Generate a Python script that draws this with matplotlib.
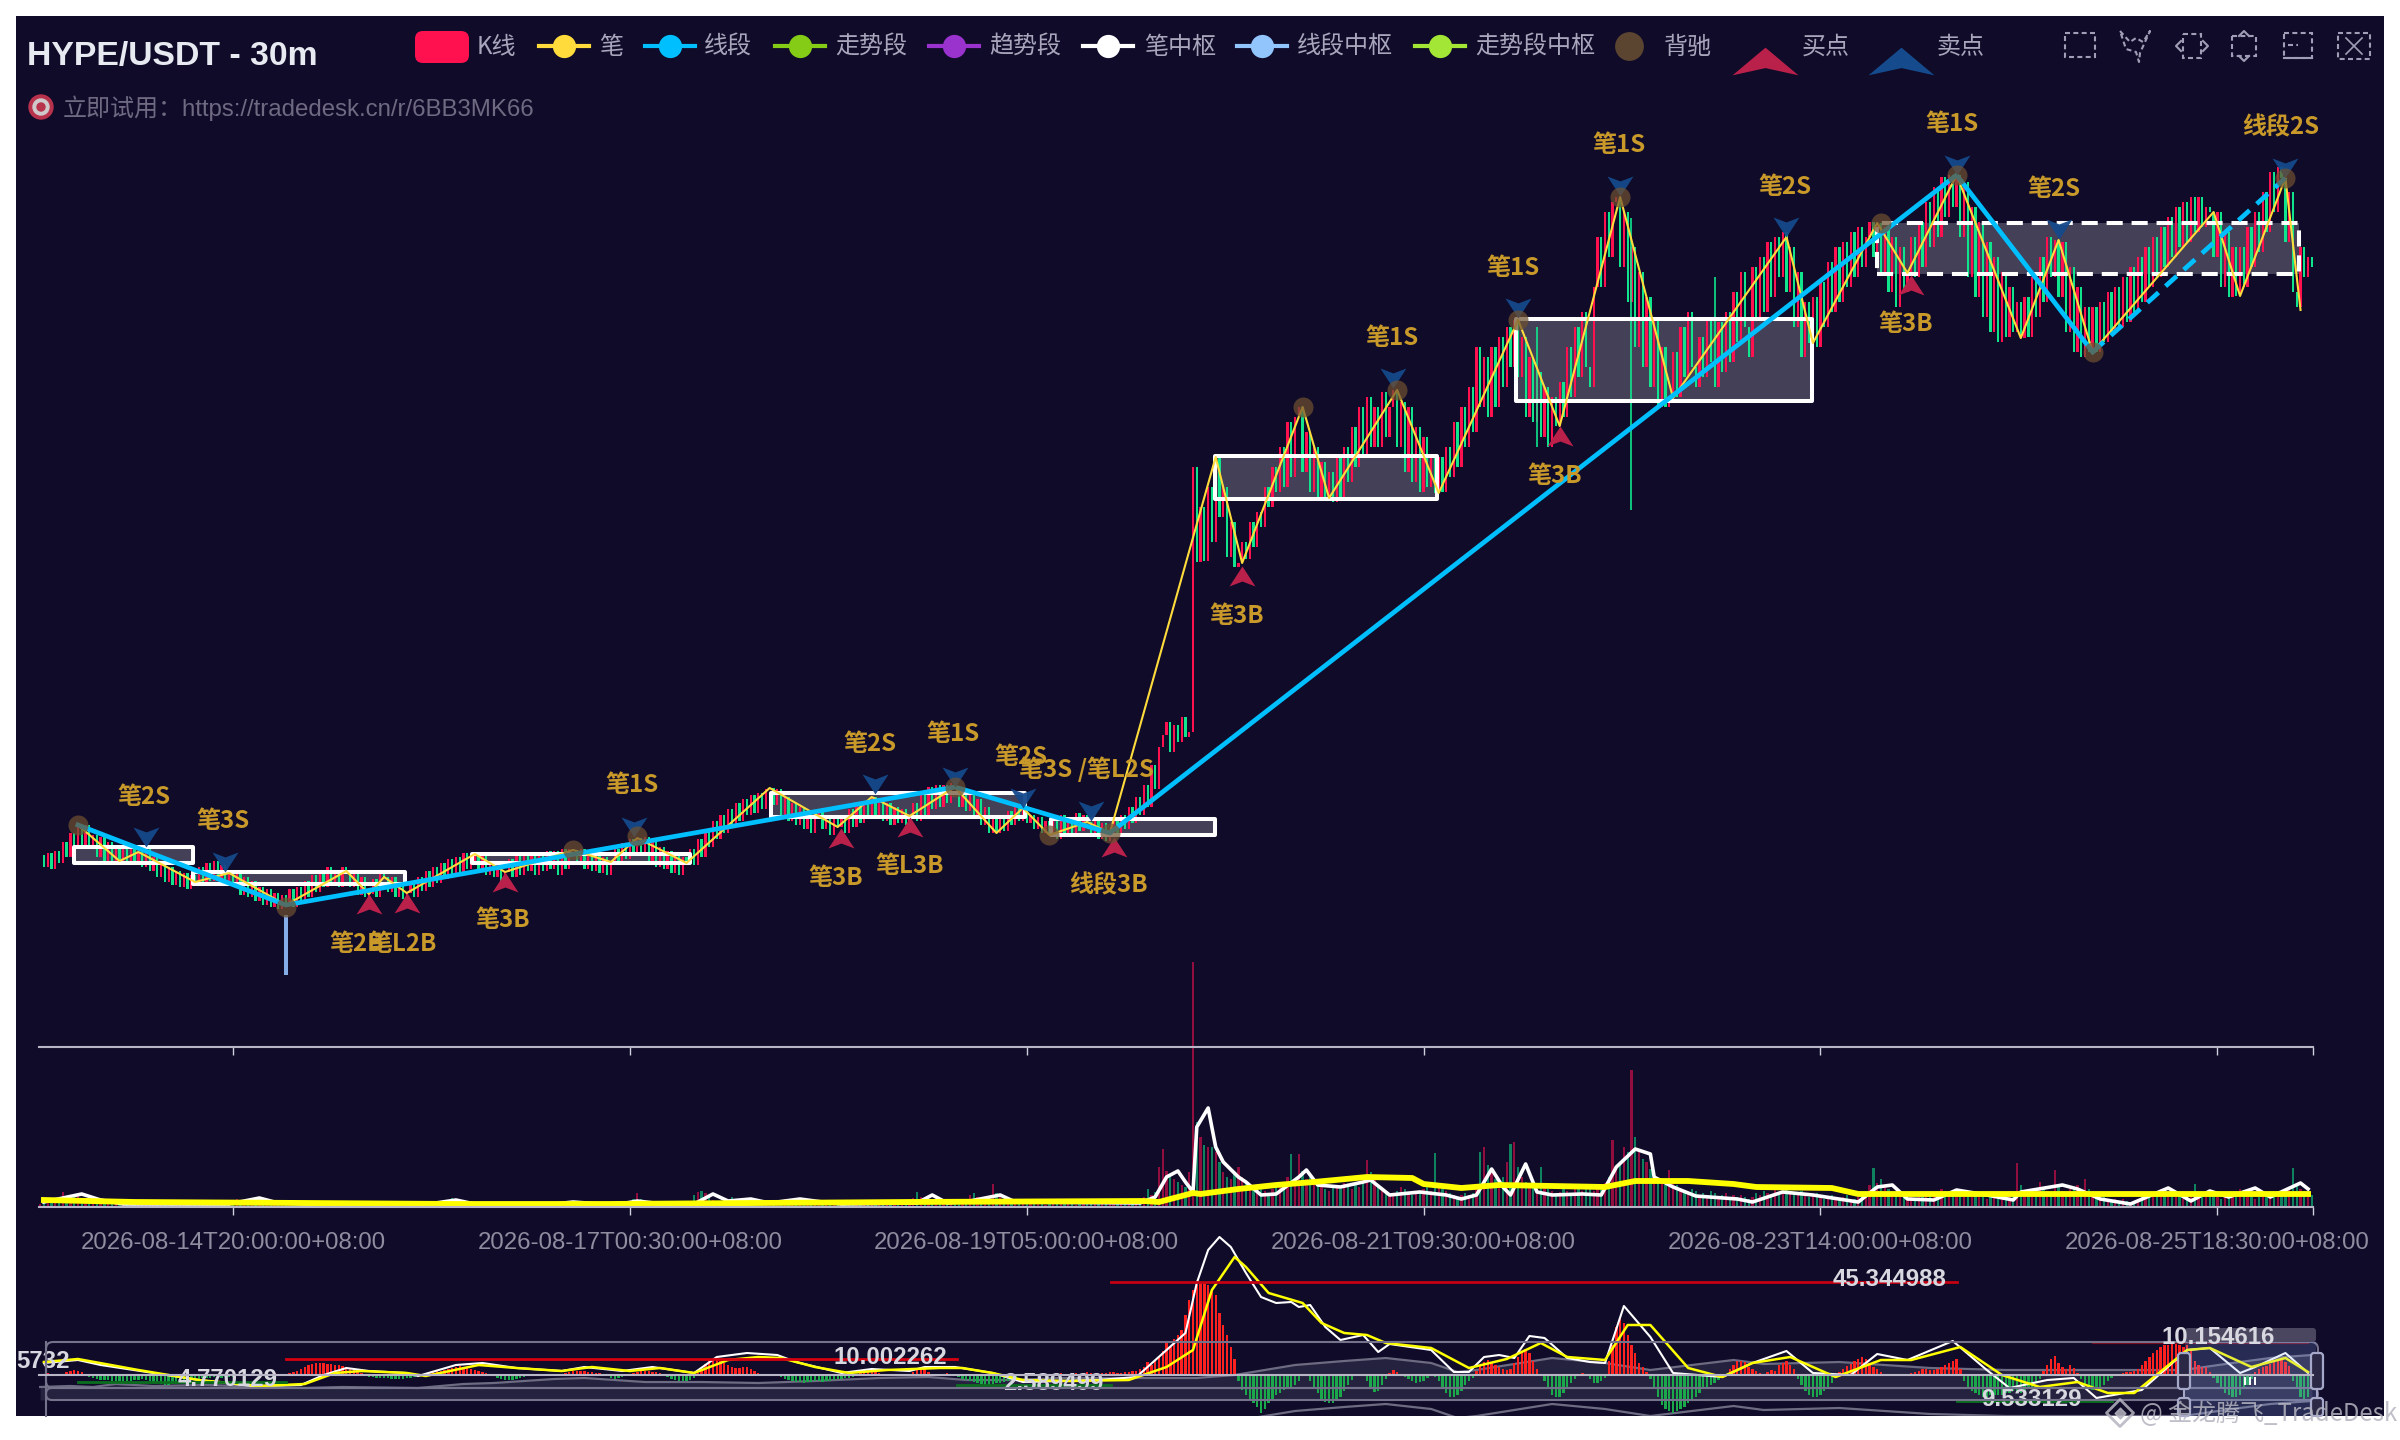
import numpy as np
import matplotlib
matplotlib.use("Agg")
import matplotlib.pyplot as plt
from matplotlib.patches import Rectangle, FancyBboxPatch, Circle
from matplotlib.path import Path

CJK = ["Noto Sans CJK SC", "DejaVu Sans"]
LATIN = ["Liberation Sans", "Noto Sans CJK SC"]

# candle closes (no axis is shown, so the scale is nominal)
closes = [
    192,180,194,178,196,184,205,190,214,200,222,
    200,222,198,212,190,210,186,205,184,200,186,
    200,182,198,186,195,
    180,198,176,190,170,186,165,180,162,176,160,174,158,172,165,
    180,162,184,166,186,168,182,166,174,
    160,176,152,170,150,166,146,160,142,158,140,154,138,152,142,
    158,140,160,146,166,150,172,155,176,160,180,162,176,160,180,176,
    160,176,152,170,150,153,
    168,150,174,170,
    155,170,150,165,148,154,
    166,150,170,156,176,160,180,164,184,168,188,172,190,174,194,178,186,193,
    178,192,172,186,170,184,165,175,
    188,170,192,172,194,176,192,172,194,176,196,178,196,172,198,178,198,197,
    182,198,178,196,176,192,174,190,172,185,
    198,182,204,188,208,192,209,
    192,210,186,206,180,200,178,196,174,194,172,190,184,
    198,182,208,190,218,200,226,208,232,214,238,222,244,226,248,232,252,234,254,238,258,259,
    242,258,232,250,226,244,222,240,218,236,214,232,236,218,232,212,228,220,
    232,214,238,220,242,224,246,230,250,
    232,248,226,244,222,240,224,238,222,231,
    244,226,252,232,260,238,262,240,262,244,264,260,
    240,258,236,254,232,248,222,240,214,230,214,
    228,216,236,222,240,226,239,
    224,232,218,230,214,226,212,
    228,208,232,214,230,212,234,216,232,225,
    210,228,208,224,206,214,
    226,212,232,218,240,224,250,232,262,240,282,258,300,312,325,295,322,305,330,310,315,
    580,485,540,486,560,505,590,
    530,560,490,525,480,484,
    505,488,525,500,535,520,560,540,580,555,600,560,625,570,630,640,
    575,615,555,600,548,585,549,
    575,545,590,550,600,565,620,580,640,590,650,600,640,600,655,610,640,657,
    600,645,575,640,565,620,555,610,560,590,554,
    590,555,600,570,625,580,640,600,660,615,700,640,690,630,700,640,710,660,720,680,727,
    670,710,630,690,625,675,610,660,600,650,621,
    665,630,700,650,720,670,735,680,660,760,810,760,835,790,845,850,
    780,835,745,800,700,775,680,750,660,730,640,700,640,649,
    695,650,720,670,735,680,660,710,670,730,685,660,725,675,735,685,755,705,775,720,690,780,730,790,735,805,750,810,770,815,
    755,800,720,775,690,745,704,
    750,700,765,720,785,735,800,745,805,760,815,770,820,780,810,825,790,824,
    775,820,755,810,740,800,755,774,
    810,770,825,780,845,800,860,810,870,830,872,840,872,
    810,865,770,840,750,825,730,805,715,790,705,775,710,760,715,745,709,
    750,710,770,730,790,745,810,770,807,
    750,805,715,780,695,760,690,740,695,
    740,695,745,705,755,715,760,720,770,725,780,735,790,745,800,760,810,770,820,780,830,790,840,800,845,805,850,815,850,820,840,835,
    790,835,760,815,750,800,751,
    800,760,820,780,835,795,855,815,875,835,880,869,
    805,855,755,740,800,770,790,780,
]

# long wicks that stick out of the bodies
wick_idx = [421, 396, 443]
wick_high = [829, 720, 770]
wick_low = [537, 600, 660]

# strokes (笔)
bi_idx = [10,21,26,41,50,65,81,87,91,97,115,123,141,151,158,171,193,211,220,230,242,253,260,267,277,283,
          311,318,334,341,359,370,391,402,418,432,462,469,486,494,507,524,534,543,575,582,594,598]
bi_val = [222,186,195,165,174,142,176,153,170,154,193,175,197,185,209,184,259,220,250,231,260,214,239,212,225,214,
          590,484,640,549,657,554,727,621,850,649,810,704,824,774,872,709,807,695,835,751,869,737]

# segments (线段), last leg is still unconfirmed and drawn dashed
seg_idx = [10,65,242,283,507,543]
seg_val = [222,142,260,214,872,695]
seg_open_idx = [543,594]
seg_open_val = [695,869]

# 笔中枢 boxes
zs_left = [9,40.4,114.3,193.4,267.4,310.8,390.4]
zs_right = [40.4,96.5,171.9,260.5,310.8,369.6,468.7]
zs_low = [184,163,184,230,212,548,646]
zs_high = [200,175,193,254,228,591,728]
zs_open = [486,597.6,773,824]

# 线段中枢 collapsed to a vertical bar
seg_zs_idx = 65
seg_zs_low = 74
seg_zs_high = 130

# 背驰 points
div_idx = [10,65,141,158,242,267,283,334,359,391,418,487,507,543,594]
div_val = [222,140,197,211,260,212,214,640,657,727,850,824,872,695,869]

# buy and sell points
buy_idx = [87,97,123,212,230,284,318,402,495]
buy_val = [153,154,175,219,230,210,481,621,772]
sell_idx = [28,49,157,221,242,260,278,358,391,418,462,507,534,594]
sell_val = [200,175,210,253,260,239,226,659,729,851,810,872,808,869]

label_text = ["笔2S","笔3S","笔2B","笔L2B","笔3B","笔1S","笔2S","笔1S","笔2S","笔3S /笔L2S","笔3B","笔L3B","线段3B",
              "笔1S","笔1S","笔1S","笔2S","笔3B","笔3B","笔1S","笔2S","线段2S","笔3B"]
label_idx = [27.5,48.4,83.8,96,122.5,156.6,219.5,241.5,259.5,276.7,210.6,230,282.5,
             357.6,389.6,417.7,461.6,400.8,316.6,505.8,532.8,592.8,493.6]
label_val = [250,226,103,103,127,262,303,313,290,278,169,181,162,
             709,779,902,860,571,431,923,858,920,723]

volumes = [
    3,4,5,6,6,8,15,9,7,10,12,8,6,5,5,4,4,3,3,3,4,3,3,4,3,3,3,4,3,3,3,4,3,3,3,2,3,3,4,3,4,3,3,4,3,3,5,4,3,4,
    4,6,8,7,6,5,7,5,4,4,4,3,3,3,2,3,3,2,3,2,3,2,3,2,3,2,2,3,2,2,3,5,3,2,2,3,2,2,3,2,2,3,2,2,3,2,2,2,3,2,
    2,3,2,2,3,2,2,4,6,9,7,5,4,4,3,3,2,2,3,2,2,2,1,2,2,1,2,2,1,2,2,1,2,2,3,2,2,3,4,6,5,6,4,3,2,3,2,2,2,3,
    2,2,2,3,2,3,5,8,14,8,5,4,3,3,2,3,2,2,2,3,3,4,6,12,15,16,14,10,7,5,4,5,8,10,7,5,4,4,6,8,5,5,4,3,4,3,5,8,7,6,
    5,7,6,5,4,3,3,4,3,3,4,3,3,4,3,3,3,3,3,4,3,3,3,3,4,3,3,3,3,3,5,9,15,10,6,5,4,3,3,4,3,5,6,5,4,8,12,14,10,6,
    5,6,23,14,10,7,5,4,3,3,3,3,3,3,3,3,2,3,3,3,3,3,3,3,2,3,3,3,3,3,3,3,3,3,3,3,4,3,4,5,5,6,10,18,12,15,40,58,36,30,
    28,25,22,20,35,245,85,70,62,60,60,55,45,35,30,28,35,40,30,25,22,20,22,18,16,14,18,22,20,24,30,53,28,53,36,28,30,26,22,20,18,16,20,22,18,24,20,18,22,20,
    24,47,35,28,22,16,14,12,14,16,20,18,15,12,14,16,18,22,16,54,20,18,16,14,12,10,12,14,12,14,20,55,60,42,36,28,24,30,45,63,65,40,30,25,22,20,18,40,22,18,
    16,14,15,18,16,14,18,20,16,18,20,16,18,22,24,30,67,40,45,60,55,137,70,55,48,45,38,30,28,24,22,37,26,22,18,16,14,18,16,12,14,12,16,14,10,12,14,10,12,10,
    12,10,8,10,14,12,16,14,12,18,14,16,18,14,12,14,16,14,10,12,14,10,8,10,12,10,8,10,12,8,8,10,12,10,22,39,24,28,22,18,14,12,14,10,8,10,8,10,12,14,
    10,12,14,18,16,12,14,18,16,14,12,10,12,14,10,8,10,12,8,10,14,16,12,44,22,16,14,12,10,25,18,16,14,37,22,16,14,18,20,22,16,28,18,14,10,8,10,8,6,8,
    6,8,6,5,6,8,10,8,12,14,16,18,14,12,10,12,10,8,14,16,23,14,10,12,16,14,10,8,10,12,14,16,18,14,12,10,8,10,14,12,10,12,14,16,18,20,39,22,18,16,14,12,
]

vol_ma5_idx = [1,11,16,22,50,54,58,62,70,101,110,115,131,141,152,158,167,173,178,182,188,193,201,207,212,232,236,240,246,254,258,291,295,298,301,303,305,306,309,311,313,317,319,323,327,333,335,338,344,350,352,357,365,372,376,380,384,387,389,393,396,400,408,413,417,422,426,427,432,438,449,453,461,469,481,486,490,494,501,507,515,522,524,535,539,545,553,563,569,574,579,586,590,598,600]
vol_ma5_val = [5,13,7,3,3,6,9,5,3,2,7,3,1,5,2,6,2,3,13,6,8,4,8,5,3,4,12,4,6,12,5,4,10,30,36,25,15,80,99,60,45,30,25,12,13,30,37,22,20,25,27,12,15,12,8,12,38,20,12,43,15,12,13,12,40,58,53,30,20,11,8,5,15,12,5,20,22,8,7,17,12,7,15,22,18,8,3,19,6,16,10,19,10,24,18]
vol_ma20_idx = [1,25,70,110,150,190,230,292,296,305,307,317,327,337,351,363,366,376,386,414,422,436,448,454,474,481,491,520,550,600]
vol_ma20_val = [7,5,4,3,3,4,5,6,5,14,13,18,22,25,30,29,23,19,22,20,26,26,23,20,19,13,13,13,13,13]

macd_hist = [
    0,1,2,1,0,-1,-1,3,4,5,4,3,
    -1,-2,-3,-4,-5,-5,-5,-6,-6,-6,-7,-6,-6,-5,-5,-4,-5,-6,-7,-8,-9,-10,-10,-9,-9,-8,-7,-6,-5,
    -4,-4,-3,-3,-3,-2,-3,-3,-2,-2,-2,-1,-1,-1,-1,0,0,0,1,1,1,2,1,1,
    1,2,3,4,6,8,10,11,12,12,12,11,11,10,10,9,8,7,5,4,2,
    -1,-2,-2,-3,-3,-3,-3,-4,-4,-4,-4,-3,-3,-2,-1,-1,
    1,2,3,4,4,5,6,7,8,9,8,7,6,5,4,3,2,1,
    -1,-3,-4,-5,-5,-5,-4,-3,-2,
    0,0,1,0,0,-1,0,0,1,1,
    2,3,4,4,4,4,3,3,2,2,1,
    -1,-3,-4,-3,-2,-1,
    1,2,3,4,4,4,3,3,2,1,
    -2,-4,-5,-6,-6,-6,-5,-3,
    2,6,11,15,17,16,14,12,10,8,7,7,8,8,6,4,2,
    1,1,0,0,-1,
    -2,-4,-5,-6,-7,-7,-8,-7,-7,-6,-6,-7,-6,-6,-5,-4,-4,-3,-3,-2,-1,
    2,4,5,5,4,2,1,0,0,1,0,0,1,1,
    3,5,7,6,3,1,1,0,1,2,0,0,
    -2,-4,-5,-6,-7,-8,-9,-10,-10,-9,-8,-8,-7,-6,-5,-3,
    -1,-1,0,0,0,-1,0,0,0,
    1,1,2,1,1,2,2,1,2,3,2,1,1,2,2,3,3,2,2,3,3,4,4,
    6,8,13,10,14,18,24,32,28,36,40,45,60,75,85,
    90,92,93,90,85,80,62,50,40,28,16,
    -6,-15,-20,-24,-28,-32,-38,-34,-28,-24,-20,-18,-15,-14,-12,-10,-6,
    1,-1,
    -6,-12,-18,-24,-27,-28,-28,-26,-22,-16,-10,-5,
    0,-1,-1,
    -6,-12,-17,-16,-10,-4,
    2,5,3,-1,-2,-4,-6,
    -8,-7,-6,-3,0,-2,
    -6,-12,-18,-22,-22,-20,-16,-10,-6,-3,
    4,9,13,15,12,10,8,6,5,6,
    12,18,24,26,22,14,6,1,
    -6,-14,-20,-22,-22,-18,-14,-8,-4,
    0,2,1,
    -4,-8,-8,-6,-3,
    14,30,48,56,52,40,30,22,12,8,3,
    -4,-12,-22,-30,-34,-36,-38,-36,-34,-32,-28,-26,-22,-18,-14,-12,-10,-8,-5,-2,
    1,6,10,14,14,13,8,6,4,2,1,3,5,4,10,12,14,10,6,
    -4,-10,-16,-20,-22,-22,-20,-16,-12,-8,-3,
    3,6,9,11,14,16,18,16,12,8,6,3,
    0,-1,0,-1,0,1,1,
    2,3,4,6,6,5,5,6,8,10,12,14,16,6,
    -6,-12,-16,-18,-20,-22,-22,-20,-20,-20,-20,-18,-18,-16,-18,-18,-16,-14,-12,-8,-4,
    4,10,16,19,12,8,6,10,7,2,
    -4,-10,-14,-15,-15,-13,-10,-6,-3,-1,
    1,2,3,3,4,6,10,14,18,22,25,28,30,30,32,34,30,
    28,30,26,14,10,8,8,3,
    -3,-8,-14,-18,-20,-22,-22,-20,-14,-10,-4,
    3,6,8,9,11,13,14,16,13,9,
    -6,-14,-22,-26,-22,-12,
]

dif_idx = [1,10,16,30,42,56,69,75,81,87,97,100,110,117,126,138,144,154,162,173,179,187,195,200,212,220,230,234,242,252,260,280,290,298,303,306,309,312,315,319,323,327,331,333,336,340,344,350,354,357,368,374,378,382,386,390,394,398,404,410,414,419,426,432,445,453,462,469,479,486,494,506,515,521,531,538,544,556,568,574,582,586,594,600]
dif_val = [12,15,10,2,-5,-11,-10,0,7,4,2,-1,10,12,7,4,8,4,8,2,18,22,20,13,2,6,4,8,8,2,-7,-5,-2,25,42,92,125,138,128,102,78,72,73,68,70,48,35,40,23,31,25,3,3,18,20,17,39,37,17,13,12,69,38,2,-2,12,24,2,0,21,15,34,5,-13,-5,-3,-23,-15,25,27,2,8,22,2]
dea_idx = [1,10,26,42,58,70,78,85,97,102,116,126,138,146,156,164,173,182,190,196,205,214,224,238,244,252,260,272,288,298,305,310,316,319,325,334,339,345,351,356,368,378,388,397,404,414,420,426,436,445,453,463,475,487,495,508,519,529,539,547,554,568,574,585,594,600]
dea_val = [13,16,5,-5,-11,-9,2,4,2,-1,10,7,4,8,4,7,2,15,18,17,8,2,5,7,7,2,-5,-6,-5,8,25,85,118,108,82,72,52,42,40,32,27,7,16,32,18,15,50,50,7,-2,12,18,-2,15,15,28,0,-12,-7,-18,-18,25,27,8,17,3]

# slider data shadow
shadow_idx = [0,8,14,20,30,44,60,70,80,100,112,120,136,144,160,175,190,205,222,235,245,258,270,290,306,316,332,345,356,368,375,380,400,414,426,448,456,476,500,520,545,567,580,590,601]
shadow_val = [-12,-11,-12,-9,-11,-10,-12,-13,-12,-13,-9,-8,-4,-3,-7,-7,-8,-6,-3,-2,-5,-5,-3,-3,-3,0,10,14,17,12,3,5,17,12,5,15,11,13,7,5,5,5,12,17,20]
shadow_offset = 46

tick_idx = [51,156,261,366,471,576,601.3]
tick_text = ["2026-08-14T20:00:00+08:00","2026-08-17T00:30:00+08:00","2026-08-19T05:00:00+08:00",
             "2026-08-21T09:30:00+08:00","2026-08-23T14:00:00+08:00","2026-08-25T18:30:00+08:00",""]

mark_text = ["45.344988","10.002262","4.770129","2.589499","9.533129"]
mark_level = [93,16,-7,-10,-26]
mark_start = [283.3,65,10,242.6,507]
mark_end = [507,242.6,65,283.3,548]
mark_color = ["#c40012","#d60010","#0a6e1e","#0a6e1e","#0a6e1e"]
mark_text_idx = [489.4,225,49.7,268,526.7]
mark_text_val = [95,17,-5,-9,-25]
last_mark_level = 32
last_mark_start = 543
last_mark_end = 600

legend_line = ["笔","线段","走势段","趋势段","笔中枢","线段中枢","走势段中枢"]
legend_color = ["#ffdc3c","#00bfff","#85cc16","#9a32cd","#ffffff","#93c5fd","#a3e635"]
legend_x0 = [539,645,775,929,1083,1237,1415]
legend_tx = [599,704,835,989,1144,1297,1475]

BG = "#0f0b29"
UP = "#ff1150"
DOWN = "#10e58e"
GOLD = "#c99a2a"
TXT = "#a8a6bc"

opens = [closes[0]] + closes[:-1]
x = np.arange(len(closes))
up = np.array(closes) >= np.array(opens)
colors = [UP if u else DOWN for u in up]
n_vol = min(len(volumes), len(colors))


def add_axes(left, top, right, bottom, z):
    ax = fig.add_axes([left / 2400, 1 - bottom / 1440, (right - left) / 2400, (bottom - top) / 1440])
    ax.set_zorder(z)
    ax.patch.set_alpha(0)
    return ax


fig = plt.figure(figsize=(24, 14.4), dpi=100, facecolor="white")

# panel background in pixel coordinates
bg = add_axes(0, 0, 2400, 1440, 0)
bg.set_xlim(0, 2400)
bg.set_ylim(1440, 0)
bg.axis("off")
bg.add_patch(Rectangle((16, 16), 2368, 1400, color=BG, lw=0))

# MACD panel with slider shadow behind it
ax_macd = add_axes(39, 1200, 2313, 1416, 1)
ax_macd.set_xlim(-0.3, 601.3)
ax_macd.set_ylim(-41, 175)
ax_macd.axis("off")
ax_macd.fill_between(shadow_idx, shadow_val, -25, color="#25223f", lw=0, zorder=1)
ax_macd.plot(shadow_idx, shadow_val, color="#6d6b82", lw=1.6, zorder=2)
ax_macd.plot(shadow_idx, np.array(shadow_val) - shadow_offset, color="#6d6b82", lw=1.6, zorder=2)
hist_x = np.arange(len(macd_hist))
hist_colors = ["#ff2020" if h > 0 else "#1ba84a" for h in macd_hist]
ax_macd.bar(hist_x, macd_hist, width=0.62, color=hist_colors, lw=0, antialiased=False, zorder=3)
ax_macd.plot(dif_idx, dif_val, color="white", lw=1.5, solid_joinstyle="round", zorder=4)
ax_macd.plot(dea_idx, dea_val, color="#ffff00", lw=1.8, solid_joinstyle="round", zorder=5)
for txt, lvl, a, b, c, tx, ty in zip(mark_text, mark_level, mark_start, mark_end, mark_color, mark_text_idx, mark_text_val):
    ax_macd.plot([a, b], [lvl, lvl], color=c, lw=2, zorder=6)
    ax_macd.text(tx, ty, txt, color="#d8d8e0", fontsize=17.3, fontweight="bold", family=LATIN,
                 ha="center", va="center", zorder=7)
ax_macd.plot([last_mark_start, last_mark_end], [last_mark_level, last_mark_level], color="#7a0a1c", lw=1.6, zorder=6)
ax_macd.text(-6.4, 13, "5732", color="#d8d8e0", fontsize=17.3, fontweight="bold", family=LATIN,
             ha="left", va="center", zorder=7, clip_on=False)

# volume panel
ax_vol = add_axes(39, 962, 2313, 1207, 2)
ax_vol.set_xlim(-0.3, 601.3)
ax_vol.set_ylim(0, 245)
ax_vol.bar(np.arange(n_vol), volumes[:n_vol], width=0.6, color=colors[:n_vol], alpha=0.55, lw=0, antialiased=False)
ax_vol.plot(vol_ma5_idx, vol_ma5_val, color="white", lw=2.6, solid_joinstyle="round")
ax_vol.plot(vol_ma20_idx, vol_ma20_val, color="#ffff00", lw=4.2, solid_joinstyle="round")
for s in ["top", "left", "right"]:
    ax_vol.spines[s].set_visible(False)
ax_vol.spines["bottom"].set_color("#b8b6c6")
ax_vol.spines["bottom"].set_linewidth(1.5)
ax_vol.set_yticks([])
ax_vol.set_xticks(tick_idx)
ax_vol.set_xticklabels(tick_text, family=LATIN, fontsize=17.3, color="#8f8da0")
ax_vol.tick_params(axis="x", length=5.8, width=1, color="#d0d0dc", pad=12)

# candle panel
ax_k = add_axes(39, 16, 2313, 1047, 3)
ax_k.set_xlim(-0.3, 601.3)
ax_k.set_ylim(0, 1031)
ax_k.bar(x, np.array(closes) - np.array(opens), bottom=opens, width=0.6, color=colors, lw=0, antialiased=False, zorder=2)
ax_k.vlines(wick_idx, wick_low, wick_high, color=DOWN, lw=1.2, zorder=2)
for s in ["top", "left", "right"]:
    ax_k.spines[s].set_visible(False)
ax_k.spines["bottom"].set_color("#b8b6c6")
ax_k.spines["bottom"].set_linewidth(1.5)
ax_k.set_yticks([])
ax_k.set_xticks(tick_idx)
ax_k.set_xticklabels([])
ax_k.tick_params(axis="x", length=5.8, width=1, color="#d0d0dc")

for l, r, lo, hi in zip(zs_left, zs_right, zs_low, zs_high):
    ax_k.add_patch(Rectangle((l, lo), r - l, hi - lo, facecolor="#ffffff", alpha=0.22, lw=0, zorder=1))
    ax_k.add_patch(Rectangle((l, lo), r - l, hi - lo, fill=False, edgecolor="white", lw=2.9, joinstyle="round", zorder=3))
l, r, lo, hi = zs_open
ax_k.add_patch(Rectangle((l, lo), r - l, hi - lo, facecolor="#ffffff", alpha=0.22, lw=0, zorder=1))
ax_k.add_patch(Rectangle((l, lo), r - l, hi - lo, fill=False, edgecolor="white", lw=2.9, ls=(0, (4, 2.2)), zorder=3))
ax_k.plot([seg_zs_idx, seg_zs_idx], [seg_zs_low, seg_zs_high], color="#85aee8", lw=2.9, zorder=3)

ax_k.plot(bi_idx, bi_val, color="#ffdc3c", lw=1.5, zorder=4)
ax_k.plot(seg_idx, seg_val, color="#00bfff", lw=3.4, zorder=5)
ax_k.plot(seg_open_idx, seg_open_val, color="#00bfff", lw=3.4, ls=(0, (3.2, 2)), zorder=5)

# arrow markers keep their tip on the point
buy_marker = Path([(0, 0), (0.5, -0.77), (0, -0.58), (-0.5, -0.77), (0, 0)], closed=True)
sell_marker = Path([(0, 0), (0.5, 0.77), (0, 0.58), (-0.5, 0.77), (0, 0)], closed=True)
ax_k.scatter(sell_idx, sell_val, marker=sell_marker, s=829, color="#154a8c", lw=0, alpha=0.95, zorder=6)
ax_k.scatter(buy_idx, buy_val, marker=buy_marker, s=829, color="#b9204a", lw=0, zorder=6)
ax_k.scatter(div_idx, div_val, s=208, color="#6e5030", alpha=0.72, lw=0, zorder=7)
for txt, lx, ly in zip(label_text, label_idx, label_val):
    ax_k.text(lx, ly, txt, color=GOLD, fontsize=17.3, fontweight="bold", family=CJK,
              ha="center", va="center", zorder=8, clip_on=False)

# foreground: title, legend, toolbox, slider outlines, watermark
fg = add_axes(0, 0, 2400, 1440, 5)
fg.set_xlim(0, 2400)
fg.set_ylim(1440, 0)
fg.axis("off")

fg.text(27, 56, "HYPE/USDT - 30m", color="#e8eaf2", fontsize=24.3, fontweight="bold", family=LATIN, va="center")
fg.text(63, 108, "立即试用：https://tradedesk.cn/r/6BB3MK66", color="#6f6a82", fontsize=17.3, family=LATIN, va="center")
fg.add_patch(Circle((41, 107), 12, color="#b8324c"))
fg.add_patch(Circle((41, 107), 8, color="#cfc9cc"))
fg.add_patch(Circle((41, 107), 4, color="#b8324c"))

fg.add_patch(FancyBboxPatch((415, 31), 54, 32, boxstyle="round,pad=0,rounding_size=8", color=UP, lw=0))
fg.text(477, 47, "K线", color=TXT, fontsize=17.3, family=CJK, va="center")
for name, c, x0, tx in zip(legend_line, legend_color, legend_x0, legend_tx):
    fg.plot([x0, x0 + 50], [46, 46], color=c, lw=3)
    fg.scatter([x0 + 25], [46], s=280, color=c, lw=0)
    fg.text(tx, 47, name, color=TXT, fontsize=17.3, family=CJK, va="center")
fg.scatter([1629], [46], s=430, color="#5c4530", lw=0)
fg.text(1664, 47, "背驰", color=TXT, fontsize=17.3, family=CJK, va="center")
legend_arrow = Path([(0, 0.21), (0.5, -0.21), (0, -0.1), (-0.5, -0.21), (0, 0.21)], closed=True)
fg.scatter([1765], [60.5], marker=legend_arrow, s=2256, color="#b9204a", lw=0)
fg.text(1802, 47, "买点", color=TXT, fontsize=17.3, family=CJK, va="center")
fg.scatter([1901], [60.5], marker=legend_arrow, s=2256, color="#154a8c", lw=0)
fg.text(1937, 47, "卖点", color=TXT, fontsize=17.3, family=CJK, va="center")

# toolbox icons, dashed
tool = dict(color="#a09eb6", lw=1.5, ls=(0, (2.4, 1.6)))
fg.add_patch(Rectangle((2065, 33), 30, 24, fill=False, edgecolor="#a09eb6", lw=1.5, ls=(0, (2.4, 1.6))))
fg.plot([2120, 2130, 2136, 2143, 2150, 2140, 2139, 2136, 2126, 2120], [31, 42, 38, 42, 31, 53, 62, 52, 49, 31], **tool)
fg.add_patch(Rectangle((2183, 34), 18, 24, fill=False, edgecolor="#a09eb6", lw=1.5, ls=(0, (2.4, 1.6))))
fg.plot([2181, 2176, 2181], [41, 46, 51], color="#a09eb6", lw=1.5)
fg.plot([2203, 2208, 2203], [41, 46, 51], color="#a09eb6", lw=1.5)
fg.add_patch(Rectangle((2232, 36), 24, 20, fill=False, edgecolor="#a09eb6", lw=1.5, ls=(0, (2.4, 1.6))))
fg.plot([2239, 2244, 2249], [36, 31, 36], color="#a09eb6", lw=1.5)
fg.plot([2239, 2244, 2249], [56, 61, 56], color="#a09eb6", lw=1.5)
fg.add_patch(Rectangle((2284, 33), 28, 25, fill=False, edgecolor="#a09eb6", lw=1.5, ls=(0, (2.4, 1.6))))
fg.plot([2284, 2312], [58, 58], color="#a09eb6", lw=1.5)
fg.plot([2288, 2298], [45, 45], **tool)
fg.add_patch(Rectangle((2338, 33), 32, 26, fill=False, edgecolor="#a09eb6", lw=1.5, ls=(0, (2.4, 1.6))))
fg.plot([2346, 2362], [38, 54], color="#a09eb6", lw=1.2)
fg.plot([2346, 2362], [54, 38], color="#a09eb6", lw=1.2)

# slider outlines
fg.add_patch(FancyBboxPatch((46, 1342), 2272, 46, boxstyle="round,pad=0,rounding_size=7", fill=False, edgecolor="#75738c", lw=1.5))
fg.add_patch(FancyBboxPatch((46, 1388), 2272, 12, boxstyle="round,pad=0,rounding_size=6", fill=False, edgecolor="#75738c", lw=1.5))
fg.plot([46, 46], [1342, 1416], color="#75738c", lw=1.5)
fg.plot([39, 2313], [1375, 1375], color="#b8b6c6", lw=1.5)
fg.add_patch(FancyBboxPatch((2185, 1328), 131, 14, boxstyle="round,pad=0,rounding_size=3", color="#4a4660", lw=0))
fg.add_patch(Rectangle((2185, 1342), 131, 74, color="#8fb0ff", alpha=0.2, lw=0))
fg.text(2218, 1337, "10.154616", color="#d8d8e0", fontsize=17.3, fontweight="bold", family=LATIN, ha="center", va="center")
for hx in [2178, 2311]:
    fg.plot([hx + 6, hx + 6], [1389, 1398], color="#a5a8c8", lw=1.5)
    fg.add_patch(FancyBboxPatch((hx, 1353), 12, 36, boxstyle="round,pad=0,rounding_size=3", facecolor="#2a2845", edgecolor="#a5a8c8", lw=1.6))
    fg.add_patch(FancyBboxPatch((hx, 1398), 12, 18, boxstyle="round,pad=0,rounding_size=3", facecolor="#2a2845", edgecolor="#a5a8c8", lw=1.6))
for gx in [2245, 2250, 2255]:
    fg.plot([gx, gx], [1378, 1384], color="white", lw=1.4)

# watermark runs across the panel edge
fg.scatter([2120], [1413], marker="D", s=190, facecolor="none", edgecolor="#b4b4c0", lw=2, alpha=0.85)
fg.scatter([2120], [1413], marker="D", s=30, color="#b4b4c0", alpha=0.85)
fg.text(2140, 1414, "@ 金龙腾飞_TradeDesk", color="#b4b4c0", fontsize=17.3, family=CJK, va="center", alpha=0.85)

plt.savefig("out.png", dpi=100, facecolor="white")
